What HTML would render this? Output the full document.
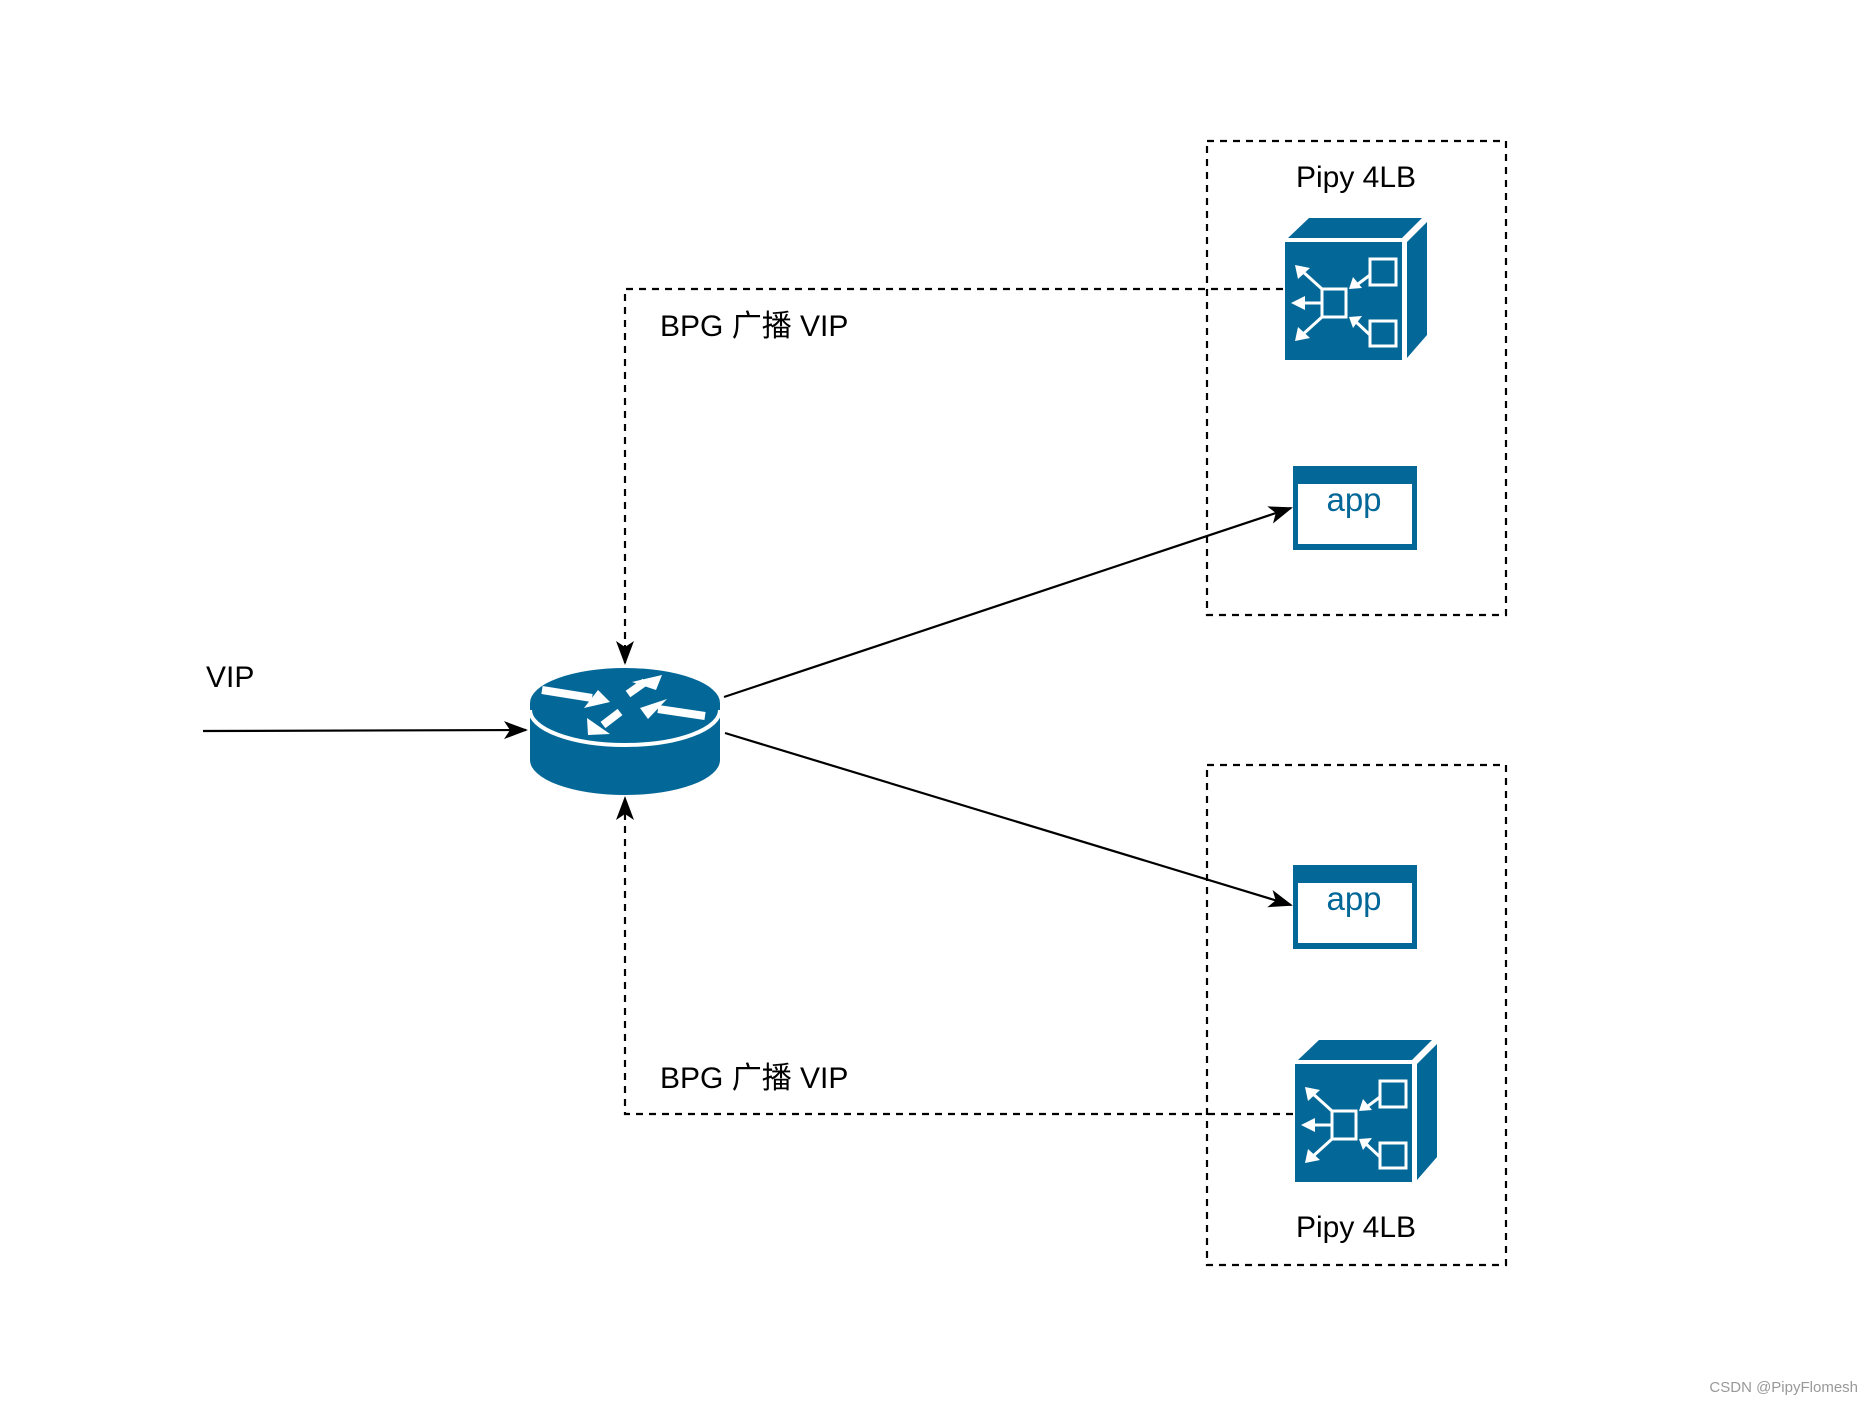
<!DOCTYPE html>
<html><head><meta charset="utf-8"><style>
html,body{margin:0;padding:0;background:#fff;}
svg{display:block;}
text{font-family:"Liberation Sans","Noto Sans CJK SC",sans-serif;}
</style></head><body>
<svg width="1874" height="1406" viewBox="0 0 1874 1406" xmlns="http://www.w3.org/2000/svg">
<defs>
<marker id="ah" viewBox="0 0 24 20" refX="22" refY="10" markerWidth="24" markerHeight="20" markerUnits="userSpaceOnUse" orient="auto">
<path d="M0,1 L24,10 L0,19 L6,10 Z" fill="#000"/>
</marker>
<g id="lb">
<polygon points="1288,238 1309,218 1422,218 1402,238" fill="#036897"/>
<polygon points="1407,242 1427,222 1427,335 1407,358" fill="#036897"/>
<rect x="1285" y="242" width="117" height="118" fill="#036897"/>
<g stroke="#fff" stroke-width="3" fill="none">
<rect x="1322" y="289" width="24" height="28"/>
<rect x="1370" y="259" width="26" height="26"/>
<rect x="1370" y="321" width="26" height="25"/>
<line x1="1322" y1="289" x2="1301" y2="270"/>
<line x1="1322" y1="303" x2="1298" y2="303"/>
<line x1="1322" y1="317" x2="1301" y2="336"/>
<line x1="1370" y1="275" x2="1354" y2="287"/>
<line x1="1370" y1="335" x2="1354" y2="320"/>
</g>
<g fill="#fff">
<polygon points="1295,265 1310,268 1298,279"/>
<polygon points="1291,303 1305,296 1305,310"/>
<polygon points="1295,341 1298,327 1310,338"/>
<polygon points="1349,289 1353,277 1362,288"/>
<polygon points="1349,317 1362,316 1353,328"/>
</g>
</g>
<g id="app">
<rect x="1293" y="466" width="124" height="84" fill="#036897"/>
<rect x="1298" y="484" width="114" height="60" fill="#fff"/>
<text x="1354" y="511" font-size="33" fill="#036897" text-anchor="middle">app</text>
</g>
</defs>

<rect x="1207" y="141" width="299" height="474" fill="none" stroke="#000" stroke-width="2.2" stroke-dasharray="7,6"/>
<rect x="1207" y="765" width="299" height="500" fill="none" stroke="#000" stroke-width="2.2" stroke-dasharray="7,6"/>

<text x="1356" y="187" font-size="30" text-anchor="middle">Pipy 4LB</text>
<text x="1356" y="1237" font-size="30" text-anchor="middle">Pipy 4LB</text>

<use href="#lb"/>
<use href="#lb" transform="translate(10,822)"/>
<use href="#app"/>
<use href="#app" transform="translate(0,399)"/>

<path d="M1283,289 L625,289 L625,663" fill="none" stroke="#000" stroke-width="2.2" stroke-dasharray="7,6" marker-end="url(#ah)"/>
<path d="M1293,1114 L625,1114 L625,798" fill="none" stroke="#000" stroke-width="2.2" stroke-dasharray="7,6" marker-end="url(#ah)"/>

<text x="660" y="336" font-size="30">BPG 广播 VIP</text>
<text x="660" y="1088" font-size="30">BPG 广播 VIP</text>

<!-- router -->
<path d="M530,703 L530,760 A95,35 0 0 0 720,760 L720,703 Z" fill="#036897"/>
<ellipse cx="625" cy="703" rx="95" ry="35" fill="#036897"/>
<path d="M530,710 A95,35 0 0 0 720,710" fill="none" stroke="#fff" stroke-width="4"/>
<g stroke="#fff" stroke-width="8" fill="none">
<line x1="542" y1="690" x2="592" y2="698"/>
<line x1="628" y1="694" x2="645" y2="682"/>
<line x1="705" y1="716" x2="658" y2="709"/>
<line x1="620" y1="712" x2="603" y2="725"/>
</g>
<g fill="#fff">
<polygon points="610,702 598,690 584,708"/>
<polygon points="662,675 632,682 656,690"/>
<polygon points="640,708 667,699 648,719"/>
<polygon points="588,735 587,718 610,734"/>
</g>

<line x1="203" y1="731" x2="526" y2="730" stroke="#000" stroke-width="2.2" marker-end="url(#ah)"/>
<line x1="724" y1="697" x2="1291" y2="508" stroke="#000" stroke-width="2.2" marker-end="url(#ah)"/>
<line x1="725" y1="733" x2="1291" y2="905" stroke="#000" stroke-width="2.2" marker-end="url(#ah)"/>

<text x="206" y="687" font-size="30">VIP</text>

<text x="1858" y="1392" font-size="15" fill="#999" text-anchor="end">CSDN @PipyFlomesh</text>
</svg>
</body></html>
